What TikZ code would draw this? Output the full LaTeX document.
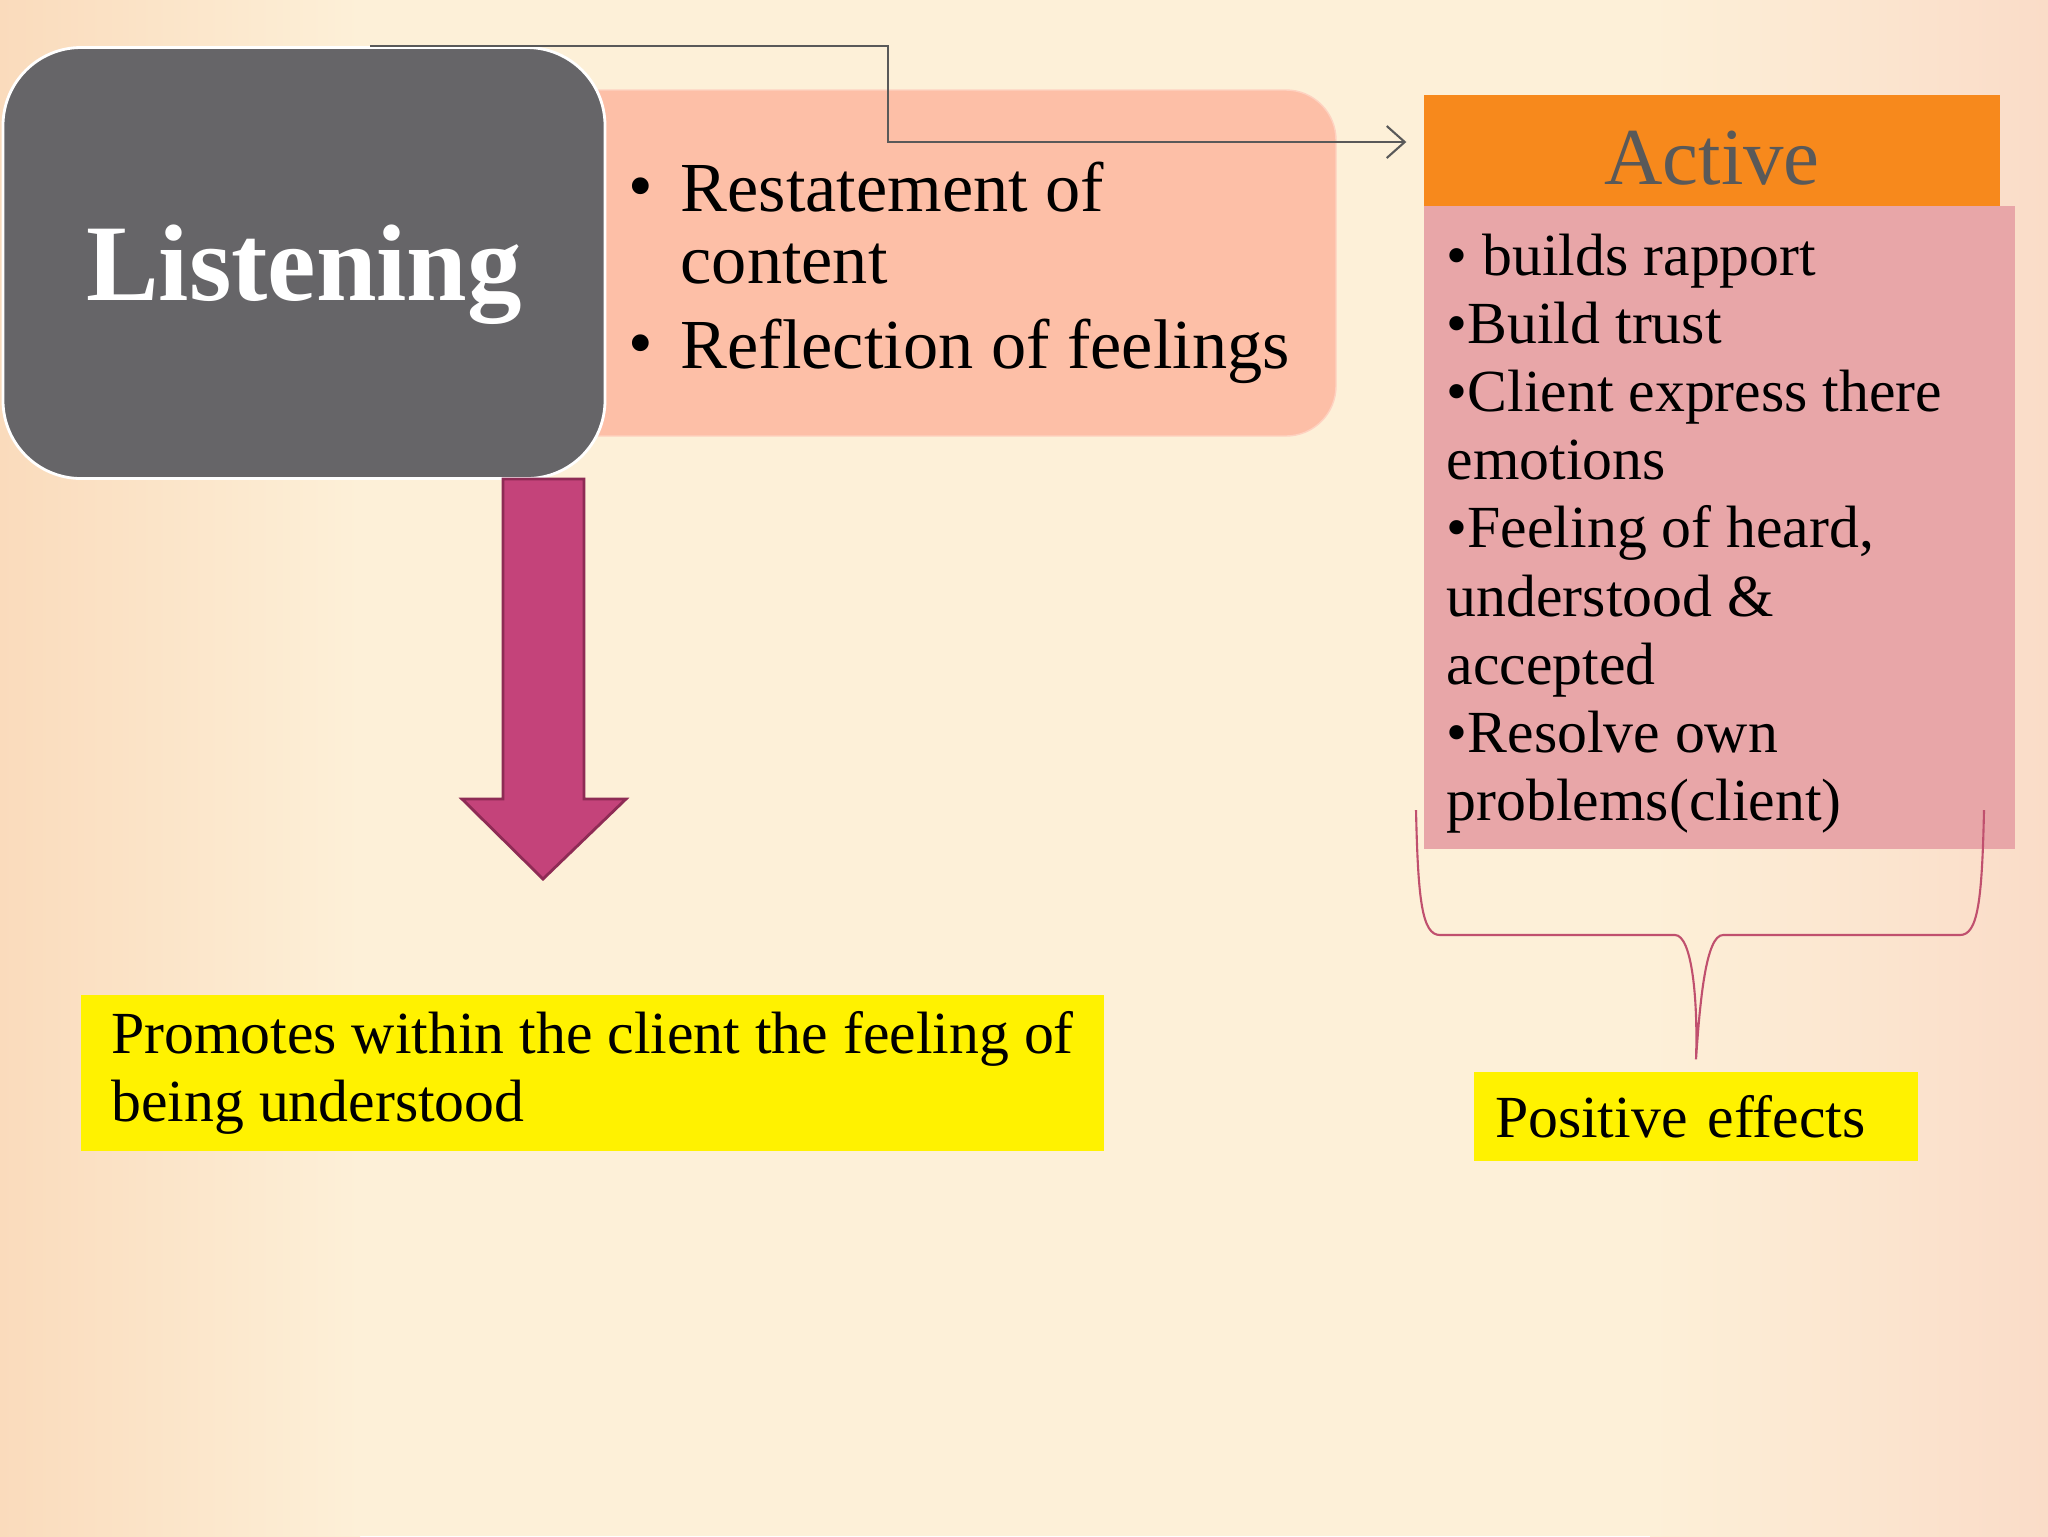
\documentclass[tikz,border=0pt]{standalone}
\usepackage{fontspec}
\setmainfont{Liberation Serif}
\usetikzlibrary{arrows.meta,calc}
\definecolor{bgleft}{HTML}{FADBBC}
\definecolor{bgmid}{HTML}{FDF0D8}
\definecolor{bgright}{HTML}{FADCC8}
\definecolor{greybox}{HTML}{666568}
\definecolor{peach}{HTML}{FDBFA7}
\definecolor{orangehead}{HTML}{F7891C}
\definecolor{headtext}{HTML}{595959}
\definecolor{pinkbox}{HTML}{E8A6A8}
\definecolor{arrowfill}{HTML}{C4437A}
\definecolor{arrowline}{HTML}{8E2B55}
\definecolor{braceline}{HTML}{C0506E}
\definecolor{connline}{HTML}{595959}

\begin{document}
\begin{tikzpicture}[x=0.1mm, y=-0.1mm,
  conn/.style={draw=connline, line width=0.6pt, -{Straight Barb[length=1.8mm, width=3.2mm]}},
  bracel/.style={draw=braceline, line width=0.6pt},
  notebox/.style={fill=yellow, inner xsep=2.1mm, align=left, font=\fontsize{17}{19.4}\selectfont},
  itemtxt/.style={anchor=north west, inner sep=0, align=left, font=\fontsize{20}{20.5}\selectfont}]
  % background
  \useasboundingbox (0,0) rectangle (2048,1536);
  \fill[bgmid] (0,0) rectangle (2048,1536);
  \shade[left color=bgleft, right color=bgmid] (0,0) rectangle (360,1536);
  \shade[left color=bgmid, right color=bgright] (1650,0) rectangle (2048,1536);
  % details box, tucked behind the title box
  \node[fill=peach, draw=peach!70!white, rounded corners=5mm, minimum width=79.6mm, minimum height=34.6mm] (detail) at (938,263) {};
  \node[fill=greybox, draw=white, thick, rounded corners=7.8mm, minimum width=60.2mm, minimum height=43.1mm,
        text=white, text depth=0pt, font=\fontsize{31}{34}\selectfont\bfseries] (listen) at (304,263) {Listening};
  % bullet items
  \node[itemtxt] (restate) at (680,161) {Restatement of\\content};
  \node[itemtxt] (reflect) at (680,318) {Reflection of feelings};
  \foreach \n/\y in {a/209, b/366}
    \node[anchor=base, inner sep=0, font=\fontsize{20}{20}\selectfont] (bullet\n) at (641,\y) {\textbullet};
  % active box
  \node[fill=orangehead, minimum width=57.6mm, minimum height=11.1mm,
        label={[text=headtext, font=\fontsize{23}{25}\selectfont, yshift=-0.8mm]center:Active}] (active) at (1712,150.5) {};
  \node[fill=pinkbox, minimum width=59.1mm, minimum height=64.3mm] (effects) at (1719.5,527.5) {};
  \node[anchor=north west, inner sep=0, align=left, font=\fontsize{17}{19.4}\selectfont] (effectlist) at (1446,233)
       {\textbullet{} builds rapport\\ \textbullet Build trust\\ \textbullet Client express there\\ emotions\\
        \textbullet Feeling of heard,\\ understood \&\\ accepted\\ \textbullet Resolve own\\ problems(client)};
  % connector from the title to the active box
  \draw[conn] ([xshift=6.6mm]listen.north) -- ++(518,0) |- ([xshift=-1.7mm, yshift=0.85mm]active.west);
  % positive effects and its brace
  \node[notebox, text width=40.2mm, minimum height=8.9mm] (positive) at (1696,1116.5) {Positive effects};
  \draw[bracel] (1416,810) .. controls (1418,900) and (1422,935) .. (1440,935) -- (1675,935)
     .. controls (1692,935) and (1698,1000) .. ([yshift=1.2mm]positive.north)
     .. controls (1700,1000) and (1706,935) .. (1723,935) -- (1960,935)
     .. controls (1978,935) and (1982,900) .. (1984,810);
  % down arrow
  \draw[fill=arrowfill, draw=arrowline, line width=0.8pt] (503,479) -- (584,479) -- (584,799) -- (626,799)
     -- (543,879) -- (462,799) -- (503,799) -- cycle;
  % result
  \node[notebox, minimum width=102.3mm, minimum height=15.6mm] (promote) at (592.5,1073)
       {Promotes within the client the feeling of\\being understood};
\end{tikzpicture}
\end{document}
